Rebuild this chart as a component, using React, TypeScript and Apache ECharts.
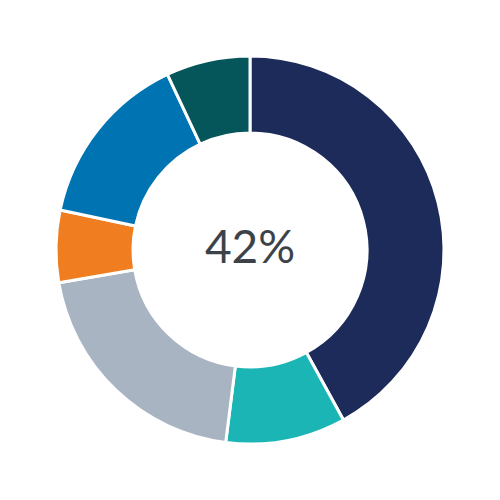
import { useEffect, useRef } from 'react';
import * as echarts from 'echarts';

const segments = ['Navy', 'Teal', 'Gray', 'Orange', 'Blue', 'Green'];
const values = [42, 10, 20.3, 6, 14.7, 7];
const colors = ['#1c2b5a', '#1cb5b5', '#a9b4c3', '#f07d1f', '#0073b3', '#05565a'];
const centerLabel = '42%';

export default function App() {
  const ref = useRef<HTMLDivElement>(null);

  useEffect(() => {
    if (!ref.current) return;
    const chart = echarts.init(ref.current, undefined, { renderer: 'svg' });
    chart.setOption({
      animation: false,
      graphic: [
        {
          type: 'text',
          left: 'center',
          top: 222,
          style: {
            text: centerLabel,
            font: '400 46px Lato',
            fill: '#3d4249',
          },
        },
      ],
      series: [
        {
          type: 'pie',
          center: ['50%', '50%'],
          radius: [117, 194],
          startAngle: 90,
          clockwise: true,
          label: { show: false },
          labelLine: { show: false },
          itemStyle: { borderColor: '#fff', borderWidth: 3 },
          data: segments.map((name, i) => ({
            name,
            value: values[i],
            itemStyle: { color: colors[i] },
          })),
        },
      ],
    });
    return () => chart.dispose();
  }, []);

  return <div ref={ref} style={{ width: 500, height: 500, margin: -8 }} />;
}
